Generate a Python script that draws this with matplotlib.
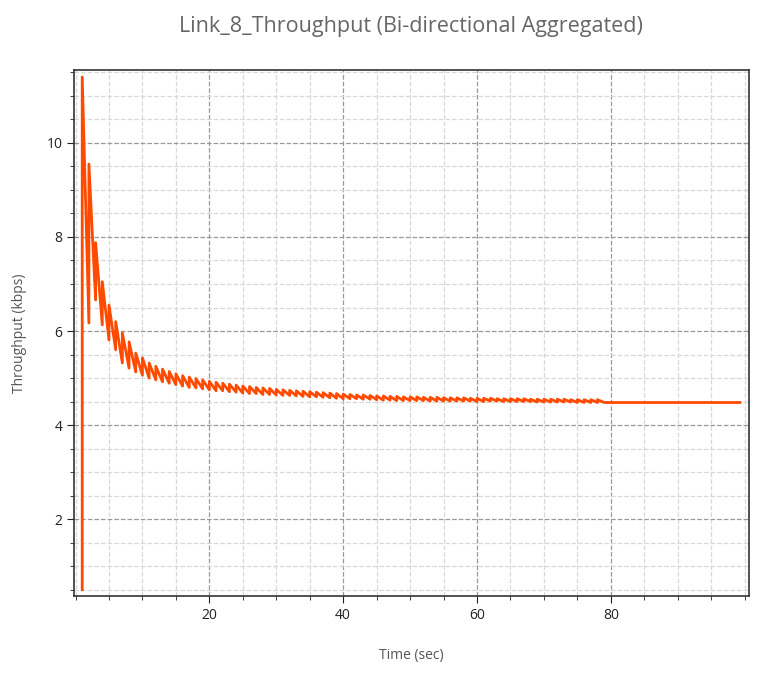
import matplotlib
matplotlib.use("Agg")
import matplotlib.pyplot as plt
from matplotlib.ticker import MultipleLocator

plt.rcParams['font.family'] = ['Open Sans', 'DejaVu Sans']

start_t = 1
start_val = 0.5
peaks = [11.4, 9.55, 7.88, 7.05, 6.55, 6.2, 5.96, 5.77, 5.53, 5.43,
         5.32, 5.25, 5.19, 5.14, 5.09, 5.05, 5.02, 4.99, 4.96, 4.93,
         4.91, 4.89, 4.87, 4.85, 4.83, 4.82, 4.80, 4.79, 4.78, 4.76,
         4.75, 4.74, 4.73, 4.72, 4.71, 4.70, 4.69, 4.68, 4.67, 4.66,
         4.65, 4.64, 4.64, 4.63, 4.62, 4.62, 4.61, 4.61, 4.60, 4.60,
         4.60, 4.59, 4.59, 4.59, 4.58, 4.58, 4.58, 4.58, 4.57, 4.57,
         4.57, 4.57, 4.56, 4.56, 4.56, 4.56, 4.56, 4.55, 4.55, 4.55,
         4.55, 4.55, 4.55, 4.54, 4.54, 4.54, 4.54, 4.54]
troughs = [6.17, 6.66, 6.13, 5.81, 5.6, 5.32, 5.21, 5.13, 5.06, 5.0,
           4.96, 4.92, 4.89, 4.86, 4.83, 4.80, 4.79, 4.77, 4.75, 4.73,
           4.73, 4.71, 4.70, 4.68, 4.67, 4.67, 4.65, 4.65, 4.64, 4.63,
           4.63, 4.62, 4.61, 4.60, 4.60, 4.59, 4.58, 4.57, 4.56, 4.56,
           4.56, 4.55, 4.55, 4.54, 4.53, 4.53, 4.52, 4.52, 4.52, 4.52,
           4.52, 4.51, 4.51, 4.51, 4.51, 4.51, 4.51, 4.51, 4.50, 4.50,
           4.51, 4.51, 4.50, 4.50, 4.50, 4.50, 4.50, 4.49, 4.49, 4.49,
           4.49, 4.49, 4.49, 4.48, 4.48, 4.48, 4.48, 4.48]
end_t = 99.3
end_val = 4.48
x_tick_labels = [20, 40, 60, 80]
y_tick_labels = [2, 4, 6, 8, 10]

xs = [start_t, start_t]
ys = [start_val, peaks[0]]
for i in range(len(peaks)):
    t = start_t + i + 1
    xs.append(t); ys.append(troughs[i])
    if i + 1 < len(peaks):
        xs.append(t); ys.append(peaks[i + 1])
xs.append(end_t); ys.append(end_val)

fig = plt.figure(figsize=(7.57, 6.73), dpi=100)
ax = fig.add_axes([0.098, 0.114, 0.891, 0.782])
ax.plot(xs, ys, color='#FF4A00', lw=2)
ax.set_xlim(-0.2, 100.6)
ax.set_ylim(0.36, 11.55)
ax.set_xticks(x_tick_labels)
ax.set_yticks(y_tick_labels)
ax.xaxis.set_minor_locator(MultipleLocator(5))
ax.yaxis.set_minor_locator(MultipleLocator(0.5))
ax.grid(which='major', color='#999999', ls='--', lw=0.9)
ax.grid(which='minor', color='#d8d8d8', ls='--', lw=0.9)
ax.set_axisbelow(True)
ax.tick_params(which='both', direction='out', labelsize=10, colors='#222222')
ax.tick_params(which='major', length=5)
ax.tick_params(which='minor', length=3)
for s in ax.spines.values():
    s.set_color('#333333'); s.set_linewidth(1.2)
ax.set_title('Link_8_Throughput (Bi-directional Aggregated)', fontsize=15.5, color='#666666', pad=27)
ax.set_xlabel('Time (sec)', fontsize=10, color='#555555', labelpad=18)
ax.set_ylabel('Throughput (kbps)', fontsize=10, color='#555555', labelpad=14)
fig.savefig('out.png', dpi=100)
